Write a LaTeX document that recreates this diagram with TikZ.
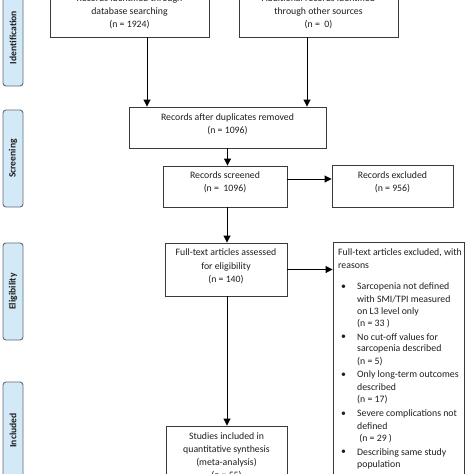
\documentclass[tikz,border=0pt]{standalone}
\usepackage{fontspec}
\setmainfont{Carlito}
\usetikzlibrary{arrows.meta}
\definecolor{stagefill}{HTML}{D3E9F8}
\definecolor{stageline}{HTML}{5F6B75}
\definecolor{boxline}{HTML}{3A3A3A}
\definecolor{txt}{HTML}{1E1E1E}
\begin{document}
\begin{tikzpicture}[x=1pt,y=-1pt,
  flowbox/.style={draw=boxline, line width=0.9pt, rectangle, inner sep=0pt},
  stage/.style={draw=stageline, fill=stagefill, line width=0.9pt, rounded corners=3pt, inner sep=0pt, minimum width=20pt, minimum height=97pt},
  stagetext/.style={rotate=90, text=txt, font=\fontsize{9.6}{11}\selectfont\bfseries},
  boxtext/.style={align=center, text=txt, inner sep=0pt, font=\fontsize{9.8}{13}\selectfont},
  listtext/.style={anchor=west, text=txt, inner sep=0pt, font=\fontsize{9.8}{12}\selectfont},
  arr/.style={draw=black, line width=0.9pt, -{Triangle[length=7pt,width=7pt]}}
]
\useasboundingbox (0,0) rectangle (474,474);
\clip (0,0) rectangle (474,474);

% stage labels
\node[stage] (s1) at (13,37.5) {};
\node[stagetext] (s1t) at (s1) {Identification};
\node[stage] (s2) at (13,158.5) {};
\node[stagetext] (s2t) at (s2) {Screening};
\node[stage] (s3) at (13,291.5) {};
\node[stagetext] (s3t) at (s3) {Eligibility};
\node[stage] (s4) at (13,430.5) {};
\node[stagetext] (s4t) at (s4) {Included};

% boxes
\node[flowbox, minimum width=159pt, minimum height=50pt] (A) at (129.5,12) {};
\node[boxtext] (At) at (129.5,12) {Records identified through\\database searching\\(n = 1924)};
\node[flowbox, minimum width=159pt, minimum height=50pt] (B) at (318.5,12) {};
\node[boxtext] (Bt) at (318.5,12) {Additional records identified\\through other sources\\(n =\ \ 0)};

\node[flowbox, minimum width=197pt, minimum height=41pt] (C) at (227.5,127.5) {};
\node[boxtext] (Ct) at (227.5,124.5) {Records after duplicates removed\\(n = 1096)};

\node[flowbox, minimum width=124pt, minimum height=41pt] (D) at (225,186.5) {};
\node[boxtext] (Dt) at (225,182.5) {Records screened\\(n =\ \ 1096)};

\node[flowbox, minimum width=121pt, minimum height=42pt] (E) at (392.5,186) {};
\node[boxtext] (Et) at (392.5,182) {Records excluded\\(n = 956)};

\node[flowbox, minimum width=122pt, minimum height=53pt] (F) at (226,269.5) {};
\node[boxtext, font=\fontsize{9.8}{13.5}\selectfont] (Ft) at (226,266.5) {Full-text articles assessed\\for eligibility\\(n = 140)};

\node[flowbox, minimum width=131pt, minimum height=260pt] (G) at (398.5,372) {};

\node[flowbox, minimum width=121pt, minimum height=62pt] (H) at (226.5,457) {};
\node[boxtext] (Ht) at (226.5,456) {Studies included in\\quantitative synthesis\\(meta-analysis)\\(n = 55)};

% exclusion list
\node[listtext] (g1) at (338,253) {Full-text articles excluded, with};
\node[listtext] (g2) at (338,266) {reasons};
\foreach \yy/\tt [count=\i] in {
  287/{Sarcopenia not defined},
  299.3/{with SMI/TPI measured},
  311.6/{on L3 level only},
  323.3/{(n = 33 )},
  337/{No cut-off values for},
  349.3/{sarcopenia described},
  361.6/{(n = 5)},
  375/{Only long-term outcomes},
  387.5/{described},
  400/{(n = 17)},
  414/{Severe complications not},
  426.3/{defined},
  438.6/{\ (n = 29 )},
  452.7/{Describing same study},
  465/{population}} {
  \node[listtext] (gl\i) at (357,\yy) {\tt};
}
\foreach \yy [count=\i] in {287,337,375,414,452.7} {
  \node[listtext] (gb\i) at (341,\yy) {•};
}

% connectors
\draw[arr] ([xshift=17.5pt]A.south) -- ([xshift=17.5pt]A.south |- C.north);
\draw[arr] ([xshift=-11.5pt]B.south) -- ([xshift=-11.5pt]B.south |- C.north);
\draw[arr] (C.south) -- (C.south |- D.north);
\draw[arr] ([yshift=7.5pt]D.east) -- ([yshift=7.5pt]D.east -| E.west);
\draw[arr] ([xshift=2pt]D.south) -- ([xshift=2pt]D.south |- F.north);
\draw[arr] (F.east) -- (F.east -| G.west);
\draw[arr] ([xshift=1pt]F.south) -- ([xshift=1pt]F.south |- H.north);
\end{tikzpicture}
\end{document}
